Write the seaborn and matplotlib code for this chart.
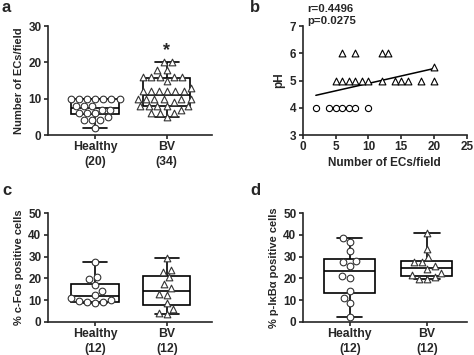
import numpy as np
import pandas as pd
import matplotlib
matplotlib.use("Agg")
import matplotlib.pyplot as plt
import seaborn as sns

# Panel a: number of ECs per field
ecs_healthy = [10, 10, 10, 10, 10, 10, 10, 8, 8, 8, 7, 7, 6, 6, 6, 5, 4, 4, 4, 2]
ecs_bv = [20, 20, 18, 18, 16, 16, 16, 16, 16, 15, 13, 12, 12, 12, 12, 12, 12,
          10, 10, 10, 10, 10, 10, 9, 8, 8, 8, 8, 8, 7, 6, 6, 6, 5]

# Panel b: pH vs ECs/field
ph_healthy_x = [2, 4, 5, 6, 7, 8, 10]
ph_healthy_y = [4, 4, 4, 4, 4, 4, 4]
ph_bv_x = [5, 6, 7, 8, 9, 10, 12, 14, 15, 16, 18, 20, 6, 8, 12, 13, 20]
ph_bv_y = [5, 5, 5, 5, 5, 5, 5, 5, 5, 5, 5, 5, 6, 6, 6, 6, 5.5]

# Panel c: % c-Fos positive cells
cfos_healthy = [27.5, 20.5, 19.5, 17, 14, 12.5, 11, 10, 9.5, 9, 9, 8.5]
cfos_bv = [29.5, 24, 23, 20.5, 17.5, 15.5, 13, 12.5, 8.5, 6, 4, 3.5]

# Panel d: % p-IkBa positive cells
pikb_healthy = [38.5, 36.5, 32.5, 28, 27.5, 25.5, 21, 20, 14, 11, 8.5, 2.5]
pikb_bv = [41, 33.5, 30, 27.5, 27.5, 25.5, 24.5, 22.5, 21.5, 20.5, 19.5, 19.5]

groups = ["Healthy", "BV"]

sns.set_style("ticks")
plt.rcParams["font.family"] = ["Liberation Sans", "DejaVu Sans"]
plt.rcParams["font.weight"] = "bold"

fig = plt.figure(figsize=(4.74, 3.55), dpi=100)
W, H = 474, 355


def make_axes(left, right, top, bottom):
    return fig.add_axes([left / W, (H - bottom) / H, (right - left) / W, (bottom - top) / H])


def style_axes(ax):
    for s in ["top", "right"]:
        ax.spines[s].set_visible(False)
    for s in ["left", "bottom"]:
        ax.spines[s].set_linewidth(1.2)
    ax.tick_params(width=1.2, length=3, labelsize=8.5, pad=1.5)
    for lab in ax.get_yticklabels() + ax.get_xticklabels():
        lab.set_fontweight("bold")


def box_panel(ax, healthy, bv, ymax, labels, ylabel):
    df = pd.DataFrame({
        "group": ["Healthy"] * len(healthy) + ["BV"] * len(bv),
        "value": healthy + bv,
    })
    sns.boxplot(data=df, x="group", y="value", order=groups, ax=ax,
                whis=(0, 100), width=0.66, fill=True, color="white",
                linecolor="black", linewidth=1.2, showfliers=False)
    for g, mk in zip(groups, ["o", "^"]):
        sns.swarmplot(data=df[df["group"] == g], x="group", y="value", order=groups,
                      ax=ax, marker=mk, size=4.8, color="white", edgecolor="#333333",
                      linewidth=0.8, zorder=4, warn_thresh=1)
    ax.set_ylim(0, ymax)
    ax.set_yticks(np.arange(0, ymax + 1, 10))
    ax.set_xticks([0, 1])
    ax.set_xticklabels(labels, fontsize=8.8, fontweight="bold", linespacing=1.3)
    ax.set_xlabel("")
    ax.set_ylabel(ylabel, fontsize=8, fontweight="bold", labelpad=3)
    style_axes(ax)
    ax.tick_params(axis="x", labelsize=8.8)


# a
ax_a = make_axes(47.7, 212, 26, 135)
box_panel(ax_a, ecs_healthy, ecs_bv, 30, ["Healthy\n(20)", "BV\n(34)"], "Number of ECs/field")
ax_a.set_xlim(-0.66, 1.63)
ax_a.text(1, 23.2, "*", ha="center", va="center", fontsize=13, fontweight="bold")

# b
ax_b = make_axes(302.7, 467, 26, 135)
sns.scatterplot(x=ph_healthy_x, y=ph_healthy_y, ax=ax_b, marker="o", s=20,
                color="white", edgecolor="black", linewidth=0.8, zorder=3)
sns.scatterplot(x=ph_bv_x, y=ph_bv_y, ax=ax_b, marker="^", s=24,
                color="white", edgecolor="black", linewidth=0.8, zorder=3)
sns.regplot(x=ph_healthy_x + ph_bv_x, y=ph_healthy_y + ph_bv_y, ax=ax_b,
            scatter=False, ci=None, color="black", line_kws={"linewidth": 1.1})
ax_b.set_xlim(0, 25)
ax_b.set_ylim(3, 7)
ax_b.set_xticks([0, 5, 10, 15, 20, 25])
ax_b.set_yticks([3, 4, 5, 6, 7])
ax_b.set_xlabel("Number of ECs/field", fontsize=8.5, fontweight="bold", labelpad=3)
ax_b.set_ylabel("pH", fontsize=8.5, fontweight="bold", labelpad=3)
style_axes(ax_b)
ax_b.text(0.75, 7.4, "r=0.4496\np=0.0275", ha="left", va="center",
          fontsize=8.2, fontweight="bold", linespacing=1.25)

# c
ax_c = make_axes(47.7, 212, 213, 322)
box_panel(ax_c, cfos_healthy, cfos_bv, 50, ["Healthy\n(12)", "BV\n(12)"], "% c-Fos positive cells")
ax_c.set_xlim(-0.66, 1.63)

# d
ax_d = make_axes(302.7, 467, 213, 322)
box_panel(ax_d, pikb_healthy, pikb_bv, 50, ["Healthy\n(12)", "BV\n(12)"], "% p-I\u03baB\u03b1 positive cells")
ax_d.set_xlim(-0.61, 1.52)

for lbl, x, y in [("a", 2, 7), ("b", 250, 7), ("c", 2, 191), ("d", 250, 191)]:
    fig.text(x / W, 1 - y / H, lbl, fontsize=12, fontweight="bold", ha="left", va="center")

fig.savefig("out.png", dpi=100)
